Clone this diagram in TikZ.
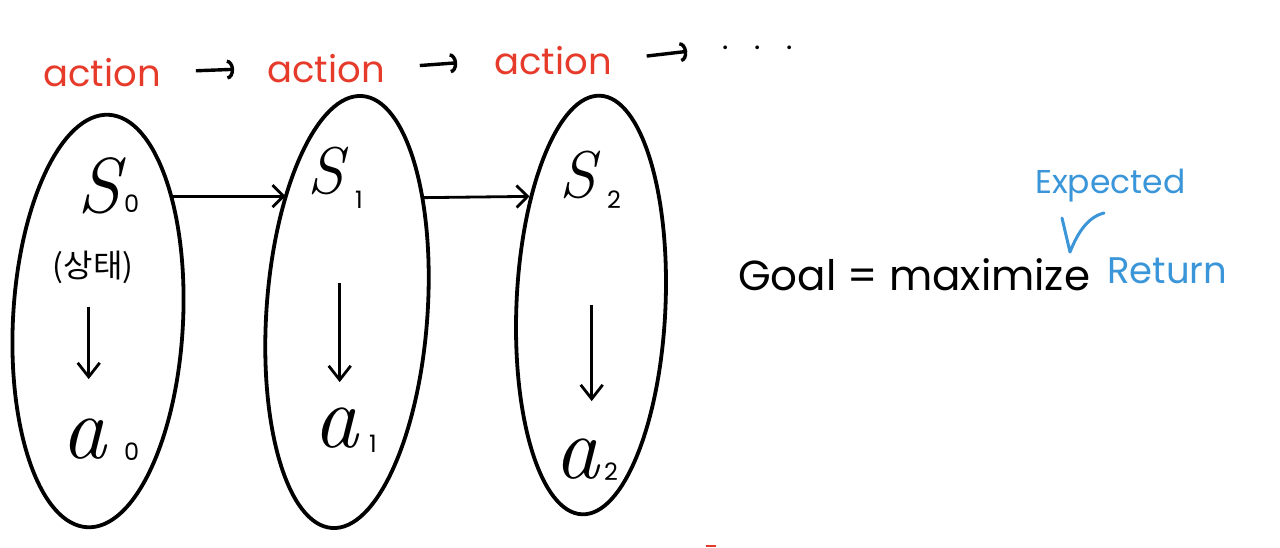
\documentclass[tikz,border=0pt]{standalone}
\usepackage{fontspec}
\newfontfamily\hand{Poppins}
\newfontfamily\krfont{Noto Sans CJK KR}
\usetikzlibrary{shapes.geometric,arrows.meta}
\definecolor{hred}{RGB}{230,58,42}
\definecolor{hblue}{RGB}{58,150,216}
\begin{document}
\begin{tikzpicture}[x=1pt,y=-1pt,
  state/.style={draw, ellipse, line width=3.8pt, inner sep=0pt},
  flow/.style={-{Straight Barb[length=11pt,width=22pt]}, line width=2.8pt},
  down/.style={-{Straight Barb[length=14pt,width=22pt]}, line width=2.8pt},
  seq/.style={-{Arc Barb[length=7pt,width=20pt]}, line width=3.4pt},
  actword/.style={inner sep=0pt, anchor=base, text=hred, font=\hand\fontsize{37pt}{37pt}\selectfont},
  sletter/.style={inner sep=0pt, anchor=base west, font=\itshape\fontsize{66pt}{66pt}\selectfont},
  aletter/.style={inner sep=0pt, anchor=base west, font=\itshape\fontsize{90pt}{90pt}\selectfont},
  subsc/.style={inner sep=0pt, anchor=base west, font=\hand\fontsize{24pt}{24pt}\selectfont},
  note/.style={inner sep=0pt, anchor=base west},
]
\useasboundingbox (0,0) rectangle (1280,547);

% top row
\node[actword] (act1) at (102,86) {action};
\node[actword] (act2) at (326,82) {action};
\node[actword] (act3) at (553,74) {action};
\node[note, font=\hand\fontsize{30pt}{30pt}\selectfont] (dots) at (722,49) {.\hspace{26pt}.\hspace{26pt}.};
\draw[seq, shorten <=35pt, shorten >=33pt] (act1.east) -- (act2.west);
\draw[seq, shorten <=35pt, shorten >=37pt] (act2.east) -- (act3.west);
\draw[seq, shorten <=35pt, shorten >=35pt] (act3.east) -- (dots.west);

% ellipses
\node[state, minimum width=170pt, minimum height=413pt, rotate=-3] (e0) at (98,321) {};
\node[state, minimum width=161pt, minimum height=433pt, rotate=-4] (e1) at (347,312) {};
\node[state, minimum width=149pt, minimum height=419pt, rotate=-2.5] (e2) at (591,305) {};

% states and actions
\node[sletter, font=\itshape\fontsize{78pt}{78pt}\selectfont] (s0) at (77,212) {S};
\node[subsc] (s0i) at (124,212) {0};
\node[sletter] (s1) at (307,193) {S};
\node[subsc] (s1i) at (355,208) {1};
\node[sletter] (s2) at (559,197) {S};
\node[subsc] (s2i) at (607,208) {2};
\node[inner sep=0pt, font=\krfont\fontsize{32pt}{32pt}\selectfont] (k0) at (93,267) {(상태)};

\node[aletter] (a0) at (61,458) {a};
\node[subsc] (a0i) at (124,460) {0};
\node[aletter] (a1) at (313,447) {a};
\node[subsc] (a1i) at (369,452) {1};
\node[aletter] (a2) at (554,478) {a};
\node[subsc] (a2i) at (604,480) {2};

% transitions
\draw[flow] (e0.62) -- (e0.62 -| e1.121);
\draw[flow] (e1.60) -- (e2.122);

\draw[down, shorten <=23pt, shorten >=39pt] ([xshift=5pt]a0.north |- k0.south) -- ([xshift=5pt]a0.north);
\draw[down, shorten <=88pt, shorten >=25pt] ([xshift=4pt]a1.north |- s1.south) -- ([xshift=4pt]a1.north);
\draw[down, shorten <=106pt, shorten >=37pt] ([xshift=15pt]a2.north |- s2.south) -- ([xshift=15pt]a2.north);

% goal
\node[note, font=\hand\fontsize{42pt}{42pt}\selectfont] (goal) at (738,290) {Goal = maximize};
\node[note, text=hblue, font=\hand\fontsize{33pt}{33pt}\selectfont] (exp) at (1035,193) {Expected};
\node[note, text=hblue, font=\hand\fontsize{37pt}{37pt}\selectfont] (ret) at (1107,283) {Return};
\draw[hblue, line width=3pt, line cap=round, line join=round]
  (1062,218) -- (1070,252) .. controls (1078,232) and (1088,217) .. (1104,213);

% stray mark
\draw[hred, line width=2.5pt] (706,546) -- (716,546);
\end{tikzpicture}
\end{document}
